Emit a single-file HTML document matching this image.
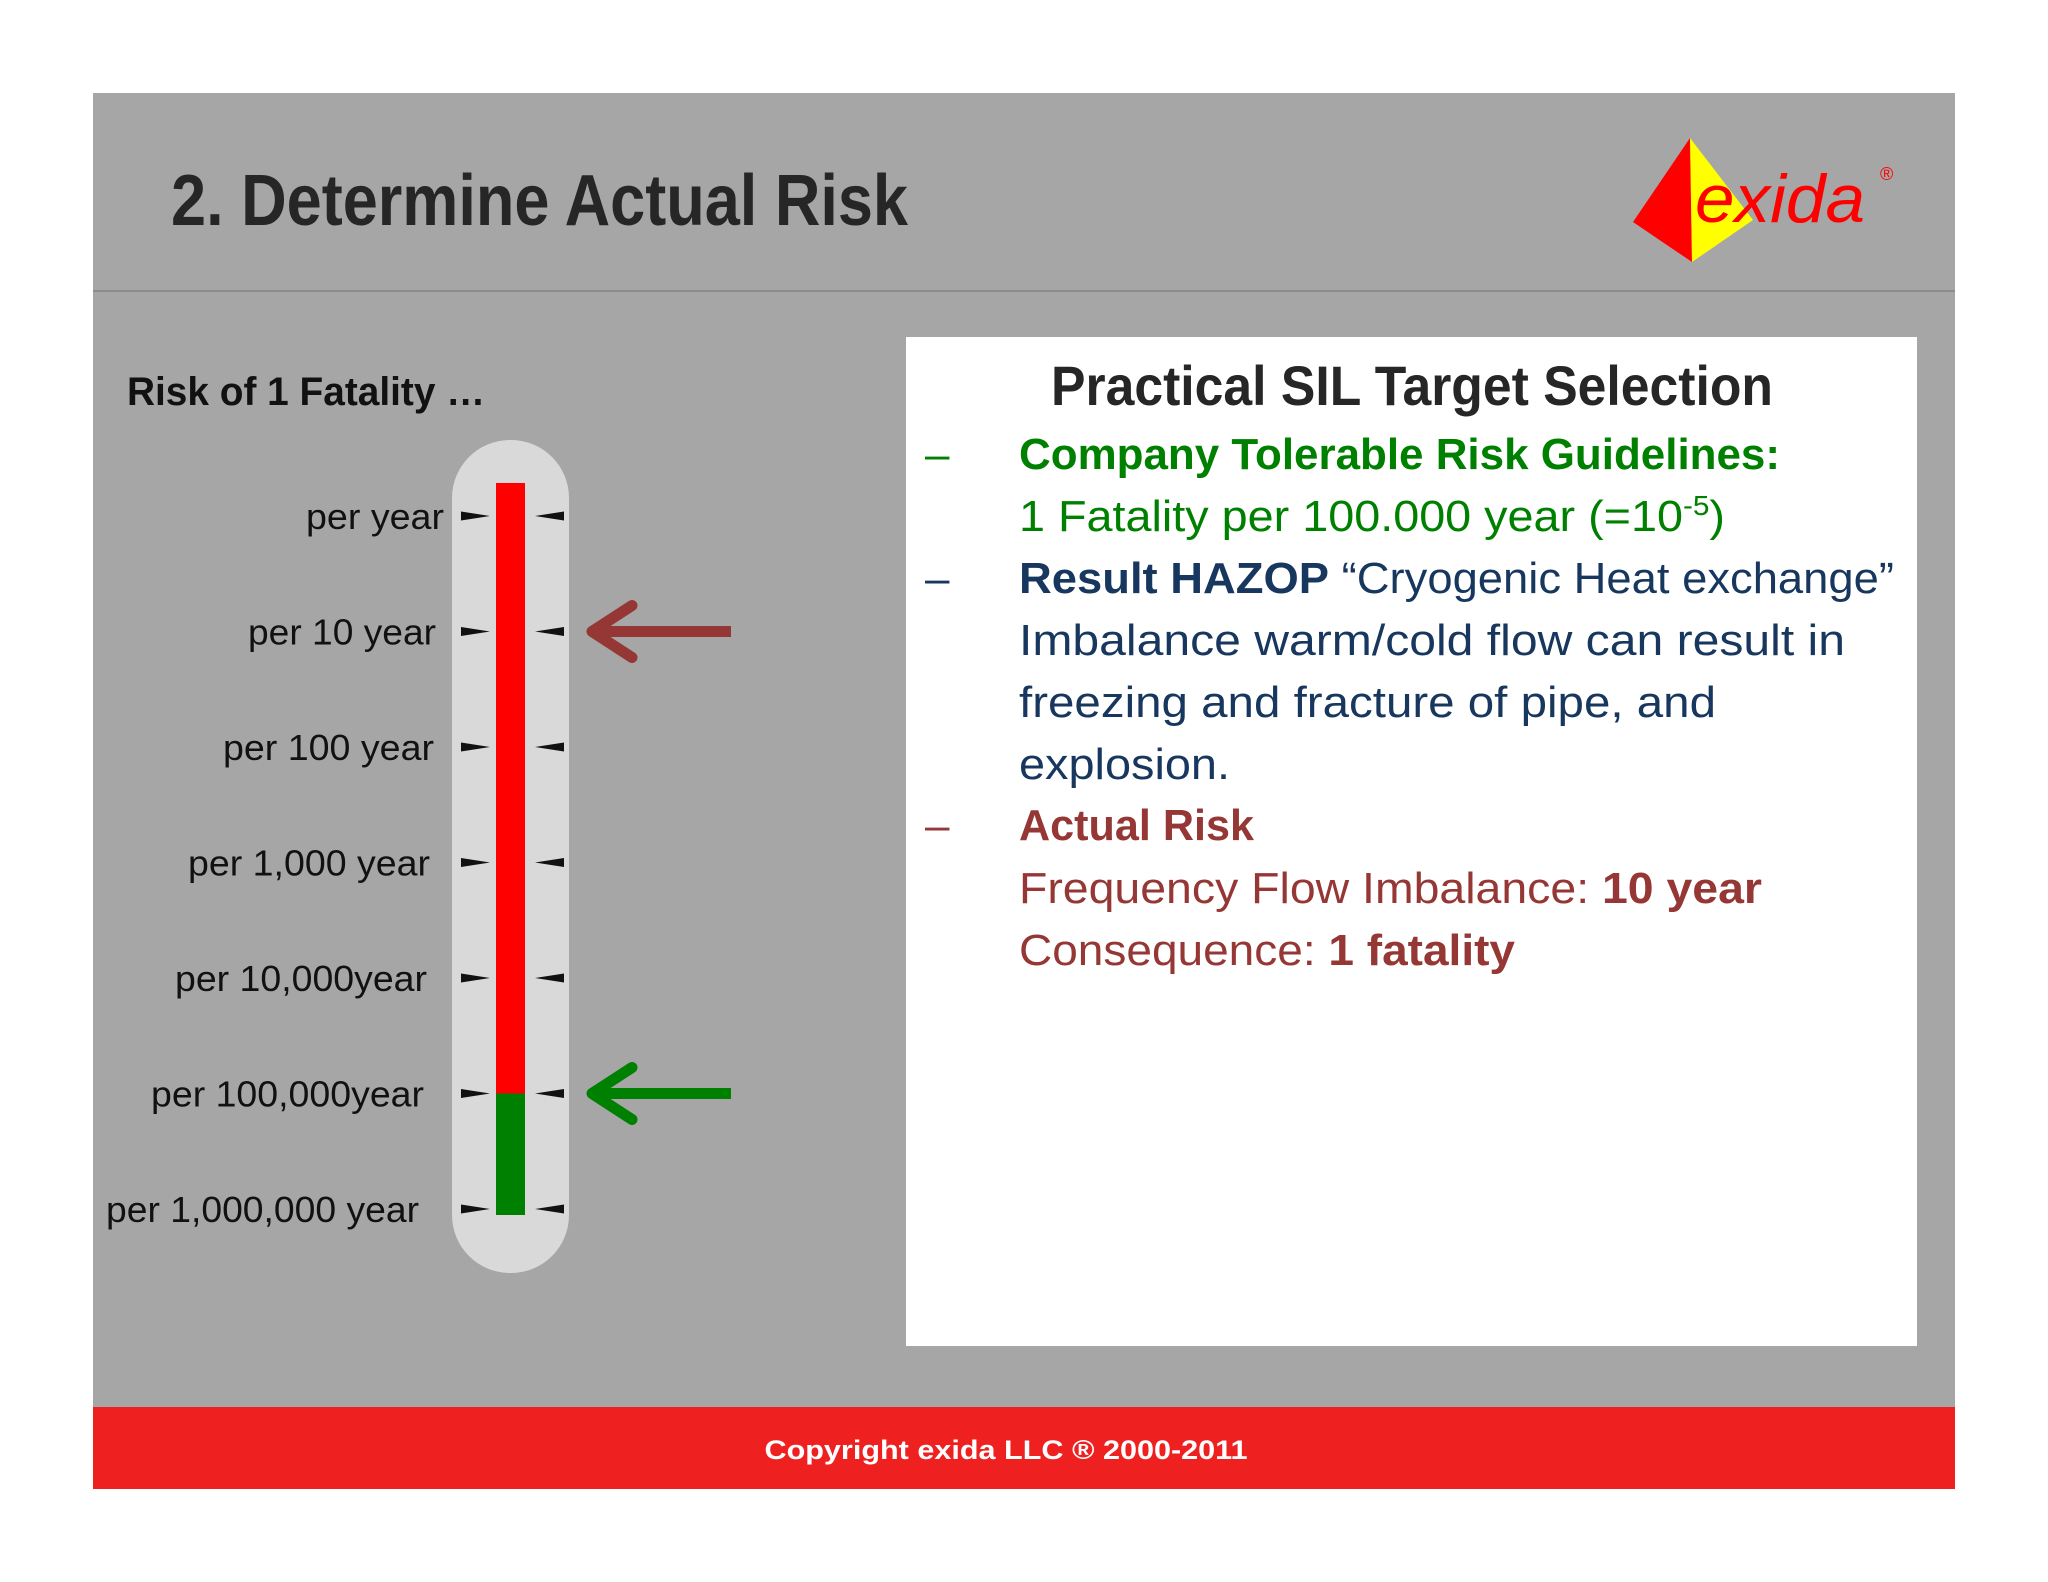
<!DOCTYPE html>
<html><head><meta charset="utf-8">
<style>
html,body{margin:0;padding:0;background:#fff;}
svg{display:block;}
text{font-family:"Liberation Sans",sans-serif;}
</style></head>
<body>
<svg id="s" width="2048" height="1582" viewBox="0 0 2048 1582" xmlns="http://www.w3.org/2000/svg">
  <rect x="93" y="93" width="1862" height="1396" fill="#a6a6a6"/>
  <line x1="93" y1="291" x2="1955" y2="291" stroke="#8c8c8c" stroke-width="2"/>
  <text x="171" y="225" font-size="72" font-weight="bold" fill="#262626" textLength="737" lengthAdjust="spacingAndGlyphs">2. Determine Actual Risk</text>
  <g>
    <polygon points="1690,138 1633,222 1692,262" fill="#ff0000"/>
    <polygon points="1690,138 1753,220 1692,262" fill="#ffff00"/>
    <text x="1695" y="222" font-size="68" font-style="italic" fill="#ff0000" textLength="170" lengthAdjust="spacingAndGlyphs">exida</text>
    <text x="1880" y="180" font-size="18" fill="#ff0000">®</text>
  </g>
  <text x="127" y="405" font-size="40" font-weight="bold" fill="#111" textLength="358" lengthAdjust="spacingAndGlyphs">Risk of 1 Fatality …</text>
  <rect x="452" y="440" width="117" height="833" rx="58" fill="#d9d9d9"/>
  <g id="chart"></g>

  <rect x="906" y="337" width="1011" height="1009" fill="#ffffff"/>
  <text x="1412" y="405" text-anchor="middle" font-size="56" font-weight="bold" fill="#262626" textLength="722" lengthAdjust="spacingAndGlyphs">Practical SIL Target Selection</text>
  <g font-size="44">
    <text x="925" y="469" fill="#008000">–</text>
    <text x="925" y="593" fill="#17375e">–</text>
    <text x="925" y="840" fill="#953735">–</text>
    <text x="1019" y="469" font-weight="bold" fill="#008000" textLength="761" lengthAdjust="spacingAndGlyphs">Company Tolerable Risk Guidelines:</text>
    <text x="1019" y="531" fill="#008000" textLength="706" lengthAdjust="spacingAndGlyphs">1 Fatality per 100.000 year (=10<tspan dy="-16" font-size="28">-5</tspan><tspan dy="16">)</tspan></text>
    <text x="1019" y="593" fill="#17375e" textLength="875" lengthAdjust="spacingAndGlyphs"><tspan font-weight="bold">Result HAZOP</tspan> “Cryogenic Heat exchange”</text>
    <text x="1019" y="655" fill="#17375e" textLength="826" lengthAdjust="spacingAndGlyphs">Imbalance warm/cold flow can result in</text>
    <text x="1019" y="717" fill="#17375e" textLength="697" lengthAdjust="spacingAndGlyphs">freezing and fracture of pipe, and</text>
    <text x="1019" y="779" fill="#17375e" textLength="211" lengthAdjust="spacingAndGlyphs">explosion.</text>
    <text x="1019" y="840" font-weight="bold" fill="#953735" textLength="235" lengthAdjust="spacingAndGlyphs">Actual Risk</text>
    <text x="1019" y="903" fill="#953735" textLength="743" lengthAdjust="spacingAndGlyphs">Frequency Flow Imbalance: <tspan font-weight="bold">10 year</tspan></text>
    <text x="1019" y="965" fill="#953735" textLength="496" lengthAdjust="spacingAndGlyphs">Consequence: <tspan font-weight="bold">1 fatality</tspan></text>
  </g>

  <rect x="93" y="1407" width="1862" height="82" fill="#ee2020"/>
  <text x="1006" y="1459" text-anchor="middle" font-size="27" font-weight="bold" fill="#ffffff" textLength="483" lengthAdjust="spacingAndGlyphs">Copyright exida LLC ® 2000-2011</text>
</svg>
<script>
const labels = ["per year","per 10 year","per 100 year","per 1,000 year","per 10,000year","per 100,000year","per 1,000,000 year"];
const tolerableIndex = 5;
const actualIndex = 1;
const labelWidths = [138,188,211,242,252,273,313];
const labelRight = [444,436,434,430,427,424,419];

const NS = "http://www.w3.org/2000/svg";
const g = document.getElementById("chart");
const y0 = 516, step = 115.5;
function yPos(i){ return y0 + i*step; }
function mk(tag, attrs){ const e=document.createElementNS(NS,tag); for(const k in attrs) e.setAttribute(k,attrs[k]); g.appendChild(e); return e; }

const topY = yPos(0) - 33, botY = yPos(labels.length-1) + 6;
const red = mk("rect",{x:496,y:topY,width:29,height:yPos(tolerableIndex)-topY,fill:"#ff0000"});


const green = mk("rect",{x:496,y:yPos(tolerableIndex),width:29,height:botY-yPos(tolerableIndex),fill:"#008000"});



labels.forEach((lab,i)=>{
  const y = yPos(i);
  const t = mk("text",{x:labelRight[i],y:y+13,"text-anchor":"end","font-size":"36",fill:"#111",textLength:labelWidths[i],lengthAdjust:"spacingAndGlyphs"});
  t.textContent = lab;
  
  
  const l = mk("polygon",{points:`461,${y-4.5} 490,${y} 461,${y+4.5}`,fill:"#111"});
  
  
  const r = mk("polygon",{points:`564,${y-4.5} 535,${y} 564,${y+4.5}`,fill:"#111"});
  
  
});

function arrow(i,color,name){
  const y = yPos(i);
  const a = mk("g",{});
  
  
  const line = document.createElementNS(NS,"line");
  line.setAttribute("x1",590); line.setAttribute("y1",y); line.setAttribute("x2",731); line.setAttribute("y2",y);
  line.setAttribute("stroke",color); line.setAttribute("stroke-width",11);
  a.appendChild(line);
  const head = document.createElementNS(NS,"polyline");
  head.setAttribute("points",`632,${y-26} 592,${y} 632,${y+26}`);
  head.setAttribute("fill","none"); head.setAttribute("stroke",color); head.setAttribute("stroke-width",11);
  head.setAttribute("stroke-linecap","round"); head.setAttribute("stroke-linejoin","round");
  a.appendChild(head);
}
arrow(actualIndex,"#953735","actual-risk-arrow");
arrow(tolerableIndex,"#008000","tolerable-risk-arrow");
</script>
</body></html>
